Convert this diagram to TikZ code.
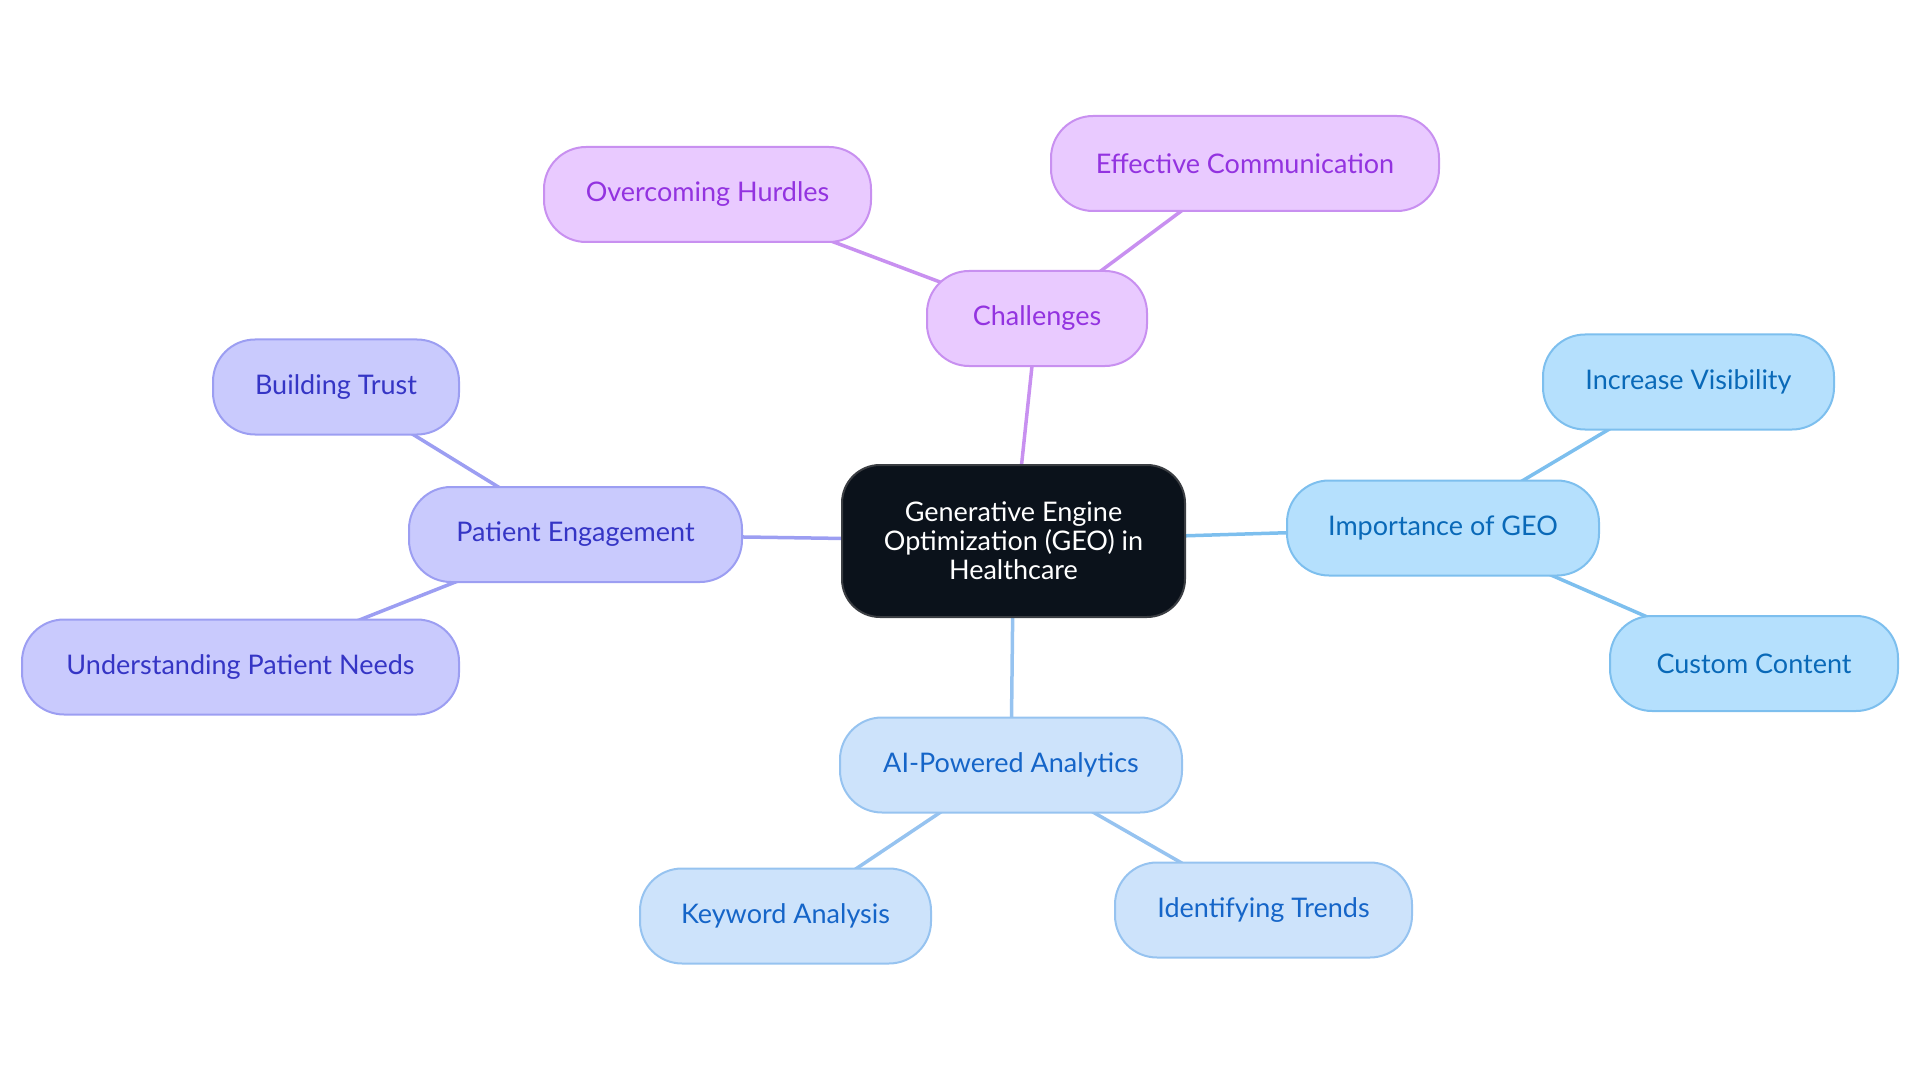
\documentclass[tikz,border=0pt]{standalone}
\usepackage{fontspec}
\setmainfont{Lato}
\usetikzlibrary{backgrounds}

\definecolor{rootfill}{HTML}{0B121B}
\definecolor{rootline}{HTML}{3A3D42}
\definecolor{purfill}{HTML}{E9CAFF}
\definecolor{purline}{HTML}{C890F0}
\definecolor{purtext}{HTML}{9333E0}
\definecolor{perfill}{HTML}{C9CAFD}
\definecolor{perline}{HTML}{9C9EF2}
\definecolor{pertext}{HTML}{3535C5}
\definecolor{skyfill}{HTML}{B5E0FD}
\definecolor{skyline}{HTML}{7DBFEE}
\definecolor{skytext}{HTML}{0969B8}
\definecolor{aifill}{HTML}{CDE3FB}
\definecolor{ailine}{HTML}{96C3F0}
\definecolor{aitext}{HTML}{1565C8}

\begin{document}
\begin{tikzpicture}[x=1pt,y=-1pt,
  every node/.style={rounded corners=42pt, minimum height=95pt, inner xsep=8pt, line width=2pt,
    font=\fontsize{27}{29}\selectfont, align=center},
  root/.style={fill=rootfill, draw=rootline, text=white, minimum height=152pt, rounded corners=38pt},
  chal/.style={fill=purfill, draw=purline, text=purtext},
  engage/.style={fill=perfill, draw=perline, text=pertext},
  geo/.style={fill=skyfill, draw=skyline, text=skytext},
  ana/.style={fill=aifill, draw=ailine, text=aitext},
  link/.style={line width=3.5pt}]
\useasboundingbox (0,0) rectangle (1920,1083);

\node[root, minimum width=343pt] (root) at (1013.5,541) {Generative Engine\\Optimization (GEO) in\\Healthcare};

\node[chal, minimum width=220pt] (challenges) at (1037,318.5) {Challenges};
\node[chal, minimum width=327pt] (hurdles) at (707.5,194.5) {Overcoming Hurdles};
\node[chal, minimum width=388pt] (communication) at (1245,163.5) {Effective Communication};

\node[geo, minimum width=312pt] (importance) at (1443,528) {Importance of GEO};
\node[geo, minimum width=291pt] (visibility) at (1688.5,382) {Increase Visibility};
\node[geo, minimum width=288pt] (content) at (1754,663.5) {Custom Content};

\node[ana, minimum width=342pt] (analytics) at (1011,765) {AI-Powered Analytics};
\node[ana, minimum width=291pt] (keyword) at (785.5,916) {Keyword Analysis};
\node[ana, minimum width=297pt] (trends) at (1263.5,910) {Identifying Trends};

\node[engage, minimum width=333pt] (engagement) at (575.5,534.5) {Patient Engagement};
\node[engage, minimum width=246pt] (trust) at (336,387) {Building Trust};
\node[engage, minimum width=437pt] (needs) at (240.5,667) {Understanding Patient Needs};

\begin{scope}[on background layer]
\draw[link, purline] (root.center) -- (challenges.center);
\draw[link, purline] (challenges.center) -- (hurdles.center);
\draw[link, purline] (challenges.center) -- (communication.center);
\draw[link, skyline] (root.center) -- (importance.center);
\draw[link, skyline] (importance.center) -- (visibility.center);
\draw[link, skyline] (importance.center) -- (content.center);
\draw[link, ailine] (root.center) -- (analytics.center);
\draw[link, ailine] (analytics.center) -- (keyword.center);
\draw[link, ailine] (analytics.center) -- (trends.center);
\draw[link, perline] (root.center) -- (engagement.center);
\draw[link, perline] (engagement.center) -- (trust.center);
\draw[link, perline] (engagement.center) -- (needs.center);
\end{scope}
\end{tikzpicture}
\end{document}
